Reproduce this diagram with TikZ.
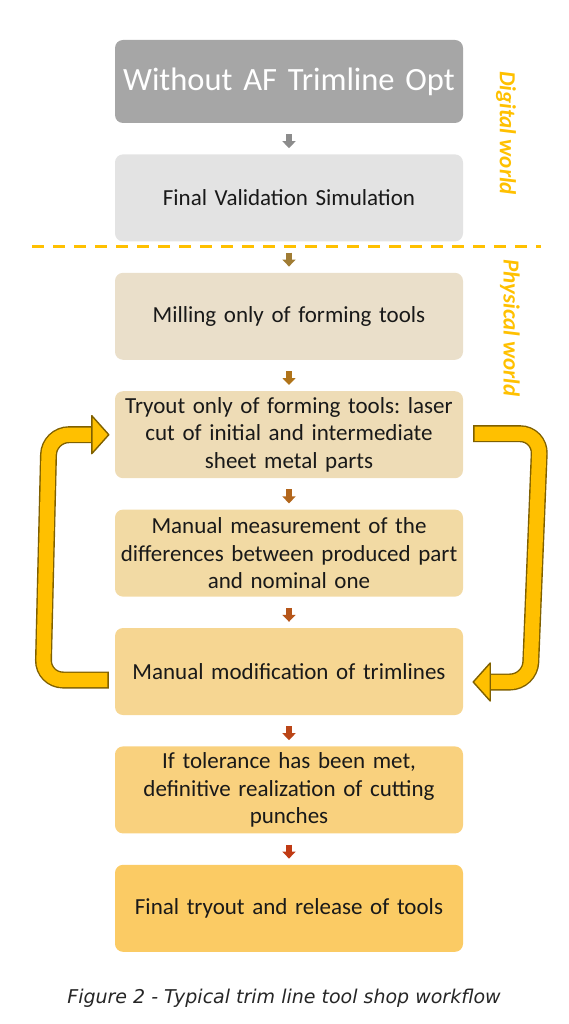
\documentclass[tikz,border=0pt]{standalone}
\usepackage{fontspec}
\setmainfont{Carlito}
\newfontfamily\capfont{DejaVu Sans}
\usetikzlibrary{positioning,arrows.meta}
\frenchspacing

\definecolor{gold}{HTML}{FFC000}
\definecolor{bandline}{HTML}{7F6000}
\definecolor{fillC}{HTML}{EADFCA}
\definecolor{fillD}{HTML}{EEDCB6}
\definecolor{fillE}{HTML}{F2DAA4}
\definecolor{fillF}{HTML}{F6D692}
\definecolor{fillG}{HTML}{F9D17E}
\definecolor{fillH}{HTML}{FBCB64}
\definecolor{arrB}{HTML}{A07C34}
\definecolor{arrC}{HTML}{B0741A}
\definecolor{arrD}{HTML}{B2661C}
\definecolor{arrE}{HTML}{B6561A}
\definecolor{arrF}{HTML}{BA4618}
\definecolor{arrG}{HTML}{C03A14}

\begin{document}
\begin{tikzpicture}[x=1pt,y=1pt,node distance=31pt,
	step box/.style = {rounded corners=8pt, minimum width=348pt, minimum height=87pt,
		text width=340pt, align=center, font=\fontsize{23}{27.5}\selectfont, text=black!90},
	flow/.style = {line width=6pt, -{Triangle[width=13pt,length=7pt]}, shorten <=11pt, shorten >=6pt},
	band out/.style = {line width=17pt, draw=bandline, rounded corners=20pt},
	band in/.style = {line width=14.2pt, draw=gold, rounded corners=20pt, shorten <=1.4pt},
	world/.style = {text=gold, font=\fontsize{23}{26}\selectfont\bfseries\itshape}]

\useasboundingbox (0,0) rectangle (569,-1024);

\node[step box,fill=black!35,text=white,minimum height=83pt,font=\fontsize{32.5}{38}\selectfont] (b1) at (289,-81.5) {Without AF Trimline Opt};
\node[step box,fill=black!11] [below = of b1] (b2) {Final Validation Simulation};
\node[step box,fill=fillC] [below = of b2] (b3) {Milling only of forming tools};
\node[step box,fill=fillD] [below = of b3] (b4) {Tryout only of forming tools: laser\\ cut of initial and intermediate\\ sheet metal parts};
\node[step box,fill=fillE] [below = of b4] (b5) {Manual measurement of the\\ differences between produced part\\ and nominal one};
\node[step box,fill=fillF] [below = of b5] (b6) {Manual modification of trimlines};
\node[step box,fill=fillG] [below = of b6] (b7) {If tolerance has been met,\\ definitive realization of cutting\\ punches};
\node[step box,fill=fillH] [below = of b7] (b8) {Final tryout and release of tools};

\node[font=\capfont\fontsize{19}{22}\selectfont\itshape,text=black!85] (cap) at (284,-998) {Figure 2 - Typical trim line tool shop workflow};

% digital / physical split
\draw[gold, line width=3pt, dash pattern=on 12pt off 9pt] (32,-246) coordinate (d0) -- (541,-246) coordinate (d1);
\node[world,rotate=-90] (dig) at (506,-133) {Digital world};
\node[world,rotate=-90] (phy) at (510,-328) {Physical world};

% step arrows
\draw[flow,black!45] (b1) -- (b2);
\draw[flow,arrB] (b2) -- (b3);
\draw[flow,arrC] (b3) -- (b4);
\draw[flow,arrD] (b4) -- (b5);
\draw[flow,arrE] (b5) -- (b6);
\draw[flow,arrF] (b6) -- (b7);
\draw[flow,arrG] (b7) -- (b8);

% feedback loops
\coordinate (lx) at (49,0);
\coordinate (rx) at (530,0);
\draw[band out] ([xshift=-6pt,yshift=-8.5pt]b6.west) -- ([xshift=-6pt,yshift=-8.5pt]b6.west -| lx) -- (b4.west -| lx) -- ([xshift=-22pt]b4.west);
\draw[band in] ([xshift=-6pt,yshift=-8.5pt]b6.west) -- ([xshift=-6pt,yshift=-8.5pt]b6.west -| lx) -- (b4.west -| lx) -- ([xshift=-22pt]b4.west);
\filldraw[fill=gold,draw=bandline,line width=1.4pt,line join=round] ([xshift=-6pt]b4.west) -- ++(-17,19) -- ++(0,-38) -- cycle;

\draw[band out] ([xshift=10pt,yshift=1pt]b4.east) -- ([xshift=10pt,yshift=1pt]b4.east -| rx) -- ([yshift=-10.5pt]b6.east -| rx) -- ([xshift=27pt,yshift=-10.5pt]b6.east);
\draw[band in] ([xshift=10pt,yshift=1pt]b4.east) -- ([xshift=10pt,yshift=1pt]b4.east -| rx) -- ([yshift=-10.5pt]b6.east -| rx) -- ([xshift=27pt,yshift=-10.5pt]b6.east);
\filldraw[fill=gold,draw=bandline,line width=1.4pt,line join=round] ([xshift=10pt,yshift=-10.5pt]b6.east) -- ++(17,19) -- ++(0,-38) -- cycle;

\end{tikzpicture}
\end{document}
